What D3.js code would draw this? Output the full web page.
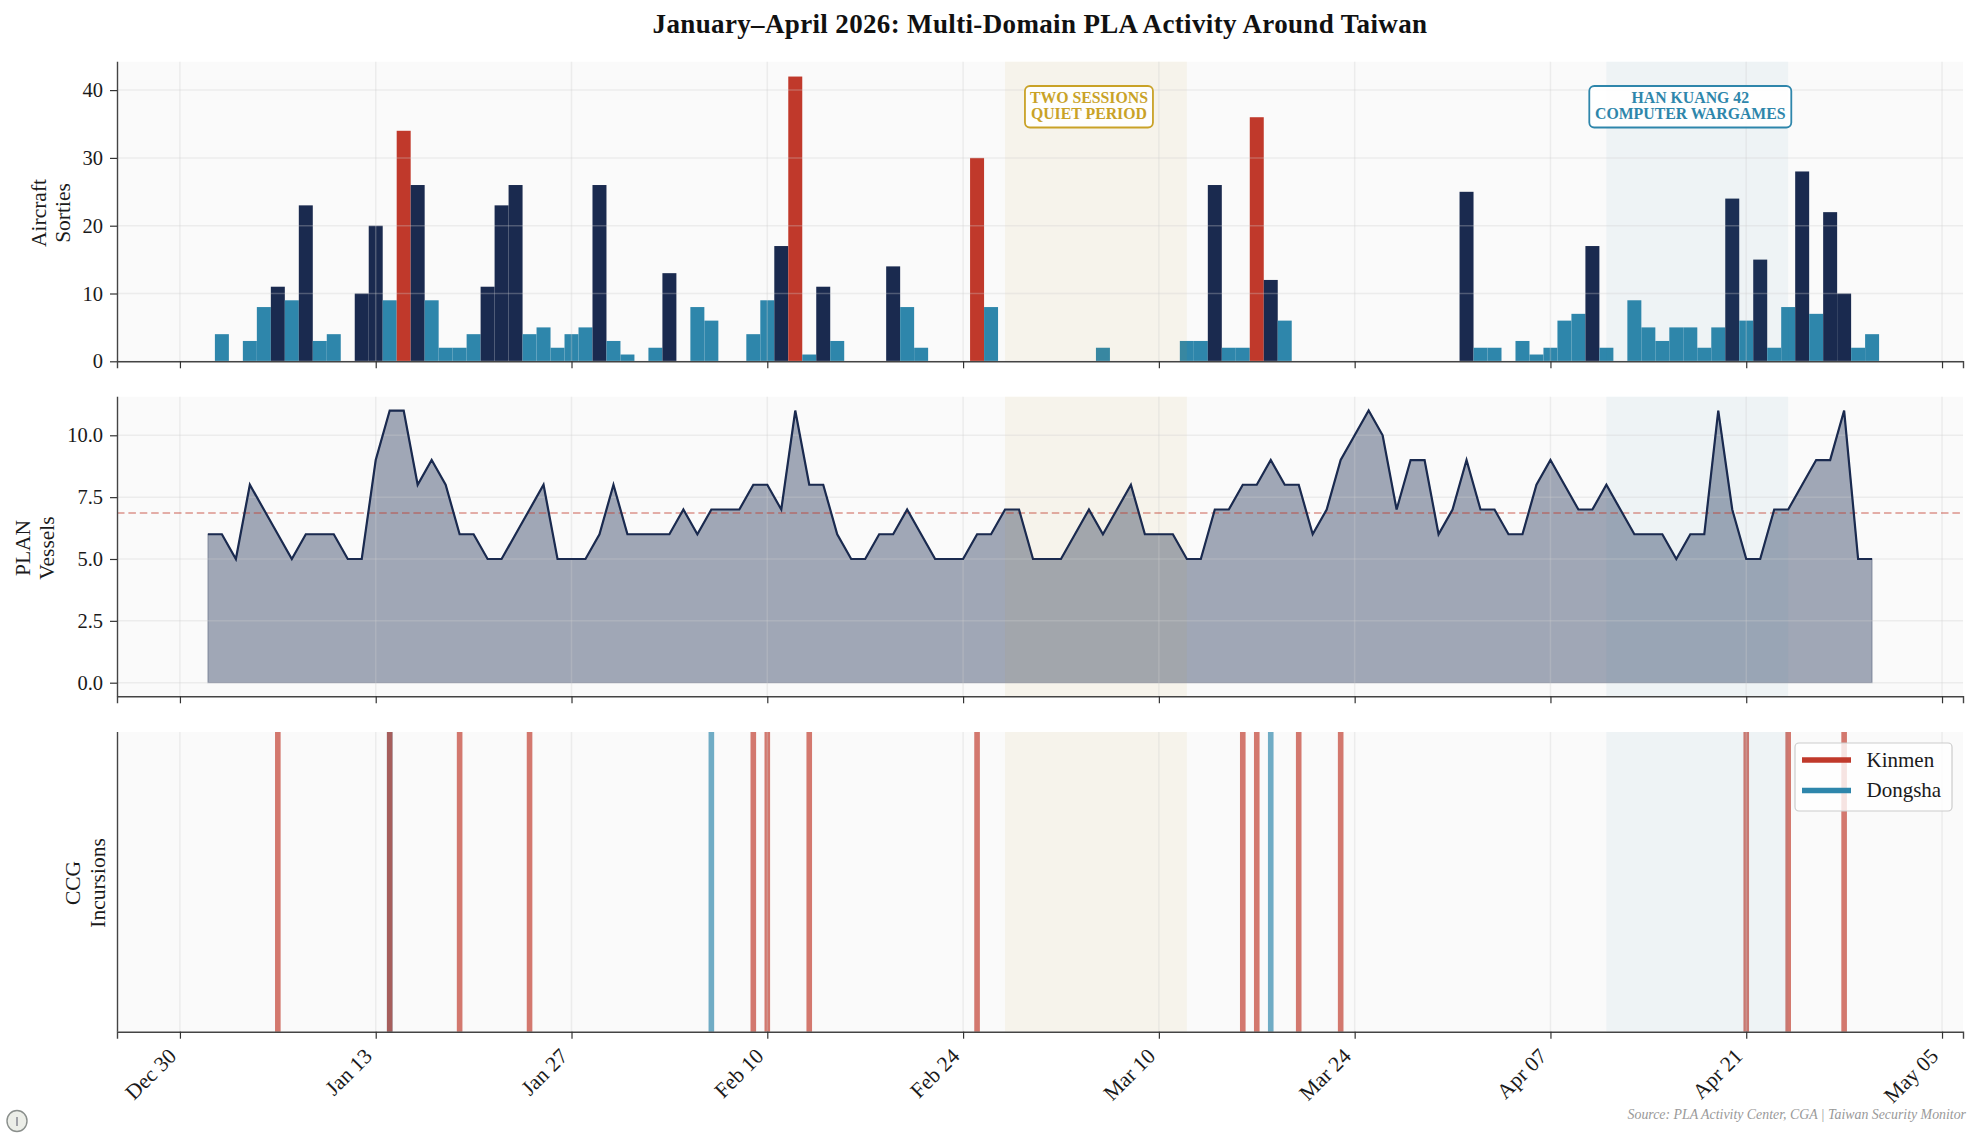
<!DOCTYPE html>
<html>
<head>
<meta charset="utf-8">
<script src="https://cdn.jsdelivr.net/npm/d3@7"></script>
<style>
  html, body { margin: 0; padding: 0; background: #fff; }
  svg { display: block; }
  svg text, svg .tick text { font-family: "Liberation Serif", serif; }
  .tick text { fill: #1a1a1a; }
</style>
</head>
<body>
<svg id="chart" width="1980" height="1136"></svg>
<script>
// Daily aircraft sorties, 1 Jan to 30 Apr 2026
const sortieValues = [
  0,4,0,3,8,11,9,23,3,4,0,10,20,9,34,26,9,2,2,4,11,23,26,4,5,2,4,5,26,3,1,0,
  2,13,0,8,6,0,0,4,9,17,42,1,11,3,0,0,0,14,8,2,0,0,0,30,8,0,0,0,0,0,0,0,
  2,0,0,0,0,0,3,3,26,2,2,36,12,6,0,0,0,0,0,0,0,0,0,0,0,0,25,2,2,0,3,1,
  2,6,7,17,2,0,9,5,3,5,5,2,5,24,6,15,2,8,28,7,22,10,2,4
];
// Daily PLAN vessel counts over the same days
const vesselValues = [
  6,6,5,8,7,6,5,6,6,6,5,5,9,11,11,8,9,8,6,6,5,5,6,7,8,5,5,5,6,8,6,6,6,6,7,6,7,7,7,
  8,8,7,11,8,8,6,5,5,6,6,7,6,5,5,5,6,6,7,7,5,5,5,6,7,6,7,8,6,6,6,5,5,7,7,8,8,9,8,8,6,7,9,
  10,11,10,7,9,9,6,7,9,7,7,6,6,8,9,8,7,7,8,7,6,6,6,5,6,6,11,7,5,5,7,7,8,9,9,11,5,5
];
const seriesStart = "2026-01-01";
const vesselMean = 6.86;

// Coast guard incursion days
const kinmenDates = ["2026-01-06","2026-01-14","2026-01-19","2026-01-24","2026-02-09","2026-02-10","2026-02-13",
  "2026-02-25","2026-03-16","2026-03-17","2026-03-20","2026-03-23","2026-04-21","2026-04-24","2026-04-28"];
const dongshaDates = ["2026-01-14","2026-02-06","2026-03-18"];

const tickDates = ["2025-12-30","2026-01-13","2026-01-27","2026-02-10","2026-02-24","2026-03-10",
  "2026-03-24","2026-04-07","2026-04-21","2026-05-05"];
const sortieTicks = [0,10,20,30,40];
const vesselTicks = [0,2.5,5,7.5,10];

const periods = [
  { start: "2026-02-27", end: "2026-03-12", mid: "2026-03-05", lines: ["TWO SESSIONS","QUIET PERIOD"], color: "#c9a227", shade: 0.07, boxW: 128 },
  { start: "2026-04-11", end: "2026-04-24", mid: "2026-04-17", lines: ["HAN KUANG 42","COMPUTER WARGAMES"], color: "#2e86ab", shade: 0.06, boxW: 202 }
];

const NAVY = "#1a2a4f", TEAL = "#2e86ab", RED = "#c0392b";
const day = s => new Date(s + "T00:00:00Z");
const svg = d3.select("#chart");

const x = d3.scaleUtc()
  .domain([day("2025-12-25").getTime() + 432e5, day("2026-05-06").getTime() + 432e5])
  .range([117, 1963]);
const dayW = x(day("2026-01-02")) - x(day("2026-01-01"));
const seriesDay = i => d3.utcDay.offset(day(seriesStart), i);

const panels = [
  { top: 61.7, bottom: 361.3, domain: [0, 44.19] },
  { top: 396.7, bottom: 696.3, domain: [-0.55, 11.56] },
  { top: 732, bottom: 1031.7, domain: [0, 1] }
];

function frame(p, yTicks, yFormat) {
  const y = d3.scaleLinear().domain(p.domain).range([p.bottom, p.top]);
  const g = svg.append("g");
  g.append("rect").attr("x", x.range()[0]).attr("y", p.top)
    .attr("width", x.range()[1] - x.range()[0]).attr("height", p.bottom - p.top).attr("fill", "#fafafa");
  const marks = g.append("g");
  const spans = g.append("g");
  periods.forEach(b => spans.append("rect")
    .attr("x", x(day(b.start))).attr("width", x(day(b.end)) - x(day(b.start)))
    .attr("y", p.top).attr("height", p.bottom - p.top)
    .attr("fill", b.color).attr("fill-opacity", b.shade));

  const grid = g.append("g").attr("stroke", "#ccc").attr("stroke-opacity", 0.3).attr("stroke-width", 1.5);
  tickDates.forEach(t => grid.append("line").attr("x1", x(day(t))).attr("x2", x(day(t))).attr("y1", p.top).attr("y2", p.bottom));
  yTicks.forEach(t => grid.append("line").attr("x1", x.range()[0]).attr("x2", x.range()[1]).attr("y1", y(t)).attr("y2", y(t)));

  const top = g.append("g");

  const axB = g.append("g").attr("transform", `translate(0,${p.bottom})`)
    .call(d3.axisBottom(x).tickValues(tickDates.map(day)).tickSize(7).tickPadding(12)
      .tickFormat(p === panels[2] ? d3.utcFormat("%b %d") : () => ""));
  axB.select(".domain").attr("stroke", "#444").attr("stroke-width", 1.4);
  axB.selectAll(".tick line").attr("stroke", "#333").attr("stroke-width", 1.2);

  const axL = g.append("g").attr("transform", `translate(${x.range()[0]},0)`)
    .call(d3.axisLeft(y).tickValues(yTicks).tickSize(7).tickPadding(7).tickFormat(yFormat || ""));
  axL.select(".domain").attr("stroke", "#444").attr("stroke-width", 1.4)
    .attr("d", `M0.5,${p.top}V${p.bottom}`);
  axL.selectAll(".tick line").attr("stroke", "#333").attr("stroke-width", 1.2);
  axL.selectAll(".tick text").style("font-size", "20.5px");
  return { y, marks, top, axB };
}

function yLabel(lines, xs, cy) {
  lines.forEach((t, i) => svg.append("text")
    .attr("transform", `translate(${xs[i]},${cy}) rotate(-90)`)
    .attr("text-anchor", "middle").attr("dominant-baseline", "middle")
    .style("font-size", "21.5px").attr("fill", "#1a1a1a").text(t));
}

// Aircraft sorties
const p1 = frame(panels[0], sortieTicks, d3.format("d"));
p1.marks.selectAll("rect").data(sortieValues).join("rect")
  .attr("x", (d, i) => x(seriesDay(i)) - dayW / 2)
  .attr("width", dayW)
  .attr("y", d => p1.y(d))
  .attr("height", d => p1.y(0) - p1.y(d))
  .attr("fill", d => d >= 30 ? RED : d >= 10 ? NAVY : TEAL);

periods.forEach(b => {
  const cx = x(day(b.mid));
  const box = svg.append("g");
  box.append("rect").attr("x", cx - b.boxW / 2).attr("y", 86).attr("width", b.boxW).attr("height", 41.5)
    .attr("rx", 5).attr("fill", "#fff").attr("fill-opacity", 0.9)
    .attr("stroke", b.color).attr("stroke-width", 1.8);
  b.lines.forEach((t, i) => box.append("text")
    .attr("x", cx).attr("y", 103 + i * 16.4).attr("text-anchor", "middle")
    .style("font-size", "15.8px").style("font-weight", "700").attr("fill", b.color).text(t));
});
yLabel(["Aircraft", "Sorties"], [41, 65], 213);

// PLAN vessels
const p2 = frame(panels[1], vesselTicks, d3.format(".1f"));
const area = d3.area().x((d, i) => x(seriesDay(i))).y0(p2.y(0)).y1(d => p2.y(d));
const line = d3.line().x((d, i) => x(seriesDay(i))).y(d => p2.y(d));
p2.marks.append("path").datum(vesselValues).attr("d", area)
  .attr("fill", NAVY).attr("fill-opacity", 0.4)
  .attr("stroke", NAVY).attr("stroke-opacity", 0.3).attr("stroke-width", 1.2);
p2.top.append("line").attr("x1", x.range()[0]).attr("x2", x.range()[1])
  .attr("y1", p2.y(vesselMean)).attr("y2", p2.y(vesselMean))
  .attr("stroke", RED).attr("stroke-opacity", 0.4).attr("stroke-width", 2).attr("stroke-dasharray", "7.5,3.9");
p2.top.append("path").datum(vesselValues).attr("d", line).attr("fill", "none")
  .attr("stroke", NAVY).attr("stroke-width", 2.2).attr("stroke-linejoin", "miter");
yLabel(["PLAN", "Vessels"], [25, 49], 548);

// Coast guard incursions
const p3 = frame(panels[2], [], null);
const eventLine = (dates, color) => p3.marks.append("g").selectAll("line").data(dates).join("line")
  .attr("x1", d => x(day(d))).attr("x2", d => x(day(d)))
  .attr("y1", panels[2].top).attr("y2", panels[2].bottom)
  .attr("stroke", color).attr("stroke-width", 5.6).attr("stroke-opacity", 0.68);
eventLine(dongshaDates, TEAL);
eventLine(kinmenDates, RED);
p3.axB.selectAll(".tick text")
  .attr("text-anchor", "end")
  .attr("transform", "translate(-14,4) rotate(-45)")
  .attr("dx", "-0.35em").attr("dy", "0.2em")
  .style("font-size", "21.5px");
yLabel(["CCG", "Incursions"], [75, 100], 883);

const legend = svg.append("g");
legend.append("rect").attr("x", 1795).attr("y", 743).attr("width", 157).attr("height", 68).attr("rx", 4)
  .attr("fill", "#fff").attr("fill-opacity", 0.8).attr("stroke", "#ccc").attr("stroke-width", 1.2);
[["Kinmen", RED, 760], ["Dongsha", TEAL, 790.5]].forEach(([t, c, yy]) => {
  legend.append("line").attr("x1", 1802).attr("x2", 1851).attr("y1", yy).attr("y2", yy).attr("stroke", c).attr("stroke-width", 5.6);
  legend.append("text").attr("x", 1866.5).attr("y", yy + 6.5).style("font-size", "21px").attr("fill", "#1a1a1a").text(t);
});

svg.append("text").attr("x", 1040).attr("y", 33).attr("text-anchor", "middle")
  .style("font-size", "27px").style("font-weight", "700").style("letter-spacing", "0.35px")
  .attr("fill", "#111").text("January–April 2026: Multi-Domain PLA Activity Around Taiwan");

svg.append("text").attr("x", 1966).attr("y", 1119).attr("text-anchor", "end")
  .style("font-size", "13.85px").style("font-style", "italic").attr("fill", "#999")
  .text("Source: PLA Activity Center, CGA | Taiwan Security Monitor");

// Small badge in the lower-left corner
const badge = svg.append("g").attr("transform", "translate(17,1121)");
badge.append("ellipse").attr("rx", 10).attr("ry", 10.5).attr("fill", "#eceee8").attr("stroke", "#8a8f8c").attr("stroke-width", 1.4);
badge.append("line").attr("y1", -4).attr("y2", 5).attr("stroke", "#556").attr("stroke-width", 1);
</script>
</body>
</html>
